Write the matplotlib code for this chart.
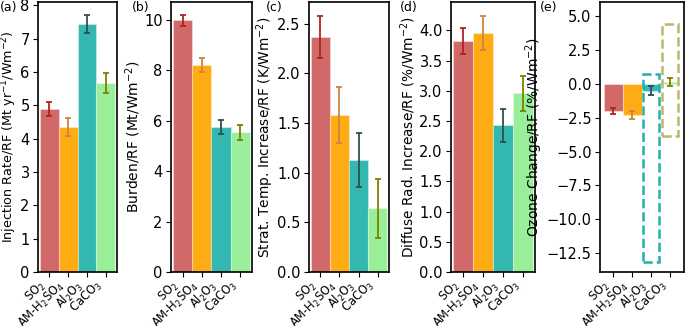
import matplotlib

matplotlib.use("Agg")
import matplotlib.pyplot as plt
from matplotlib.colors import to_rgba
import numpy as np

plt.rcParams["font.family"] = "DejaVu Sans"
plt.rcParams["mathtext.default"] = "regular"

species = ["SO$_2$", "AM-H$_2$SO$_4$", "Al$_2$O$_3$", "CaCO$_3$"]
bar_colors = ["indianred", "orange", "lightseagreen", "lightgreen"]
err_colors = ["#b22222", "#cd853f", "#2f4f4f", "#808000"]

# panel values (mean, error)
inj_rate = [4.9, 4.35, 7.44, 5.67]
inj_rate_err = [0.21, 0.28, 0.27, 0.3]
burden = [9.97, 8.2, 5.73, 5.53]
burden_err = [0.22, 0.29, 0.28, 0.29]
strat_temp = [2.37, 1.58, 1.13, 0.64]
strat_temp_err = [0.21, 0.28, 0.27, 0.3]
diffuse_rad = [3.83, 3.96, 2.43, 2.96]
diffuse_rad_err = [0.215, 0.285, 0.275, 0.29]
ozone = [-1.99, -2.28, -0.5, 0.15]
ozone_err = [0.23, 0.3, 0.33, 0.3]

# ozone uncertainty ranges shown as dashed boxes (Al2O3, CaCO3)
ozone_box_idx = [2, 3]
ozone_box_low = [-13.19, -3.88]
ozone_box_high = [0.74, 4.44]
ozone_box_colors = ["lightseagreen", "darkkhaki"]

panels = [
    ("(a)", inj_rate, inj_rate_err, "Injection Rate/RF (Mt yr$^{-1}$/Wm$^{-2}$)", (0, 8.1)),
    ("(b)", burden, burden_err, "Burden/RF (Mt/Wm$^{-2}$)", (0, 10.7)),
    ("(c)", strat_temp, strat_temp_err, "Strat. Temp. Increase/RF (K/Wm$^{-2}$)", (0, 2.72)),
    ("(d)", diffuse_rad, diffuse_rad_err, "Diffuse Rad. Increase/RF (%/Wm$^{-2}$)", (0, 4.47)),
    ("(e)", ozone, ozone_err, "Ozone Change/RF (%/Wm$^{-2}$)", (-13.9, 6.05)),
]

W, H = 685, 326
fig = plt.figure(figsize=(W / 100, H / 100), dpi=100)

# axes left/right edges in pixels
ax_px = [(38, 117), (171, 252), (309, 389), (451, 535), (600, 684)]
top_px, bot_px = 2, 272
label_px = [(0, 8), (132, 8), (266, 8), (400, 8), (540, 8)]
ylabel_size = [9.2, 10, 9.9, 9.8, 10]

x = np.arange(len(species))
for i, (tag, vals, errs, ylab, ylim) in enumerate(panels):
    l, r = ax_px[i]
    ax = fig.add_axes([l / W, 1 - bot_px / H, (r - l) / W, (bot_px - top_px) / H])
    for j in range(len(species)):
        ax.bar(x[j], vals[j], width=1.0, facecolor=to_rgba(bar_colors[j], 0.92),
               edgecolor=(1, 1, 1, 0.35), linewidth=0.8)
        ax.errorbar(x[j], vals[j], yerr=errs[j], color=err_colors[j], capsize=2.5,
                    elinewidth=1.3, capthick=1.3, fmt="none", zorder=3)
    if tag == "(e)":
        for k, j in enumerate(ozone_box_idx):
            ax.bar(x[j], ozone_box_high[k] - ozone_box_low[k], bottom=ozone_box_low[k],
                   width=0.82, fill=False, edgecolor=ozone_box_colors[k],
                   linestyle="--", linewidth=1.8, zorder=4)
        ax.set_xlim(-0.71, 3.75)
    else:
        ax.set_xlim(-0.6, 3.6)
    ax.set_ylim(*ylim)
    ax.set_xticks(x)
    ax.set_xticklabels(species, rotation=45, ha="right", fontsize=8.3)
    ax.tick_params(axis="y", labelsize=10.5, pad=2.5)
    ax.tick_params(axis="x", pad=1)
    ax.tick_params(length=3.5)
    ax.set_ylabel(ylab, fontsize=ylabel_size[i], labelpad=1)
    for s in ax.spines.values():
        s.set_linewidth(1.2)
    lx, ly = label_px[i]
    fig.text(lx / W, 1 - ly / H, tag, fontsize=9, va="center", ha="left")

fig.savefig("out.png", dpi=100)
